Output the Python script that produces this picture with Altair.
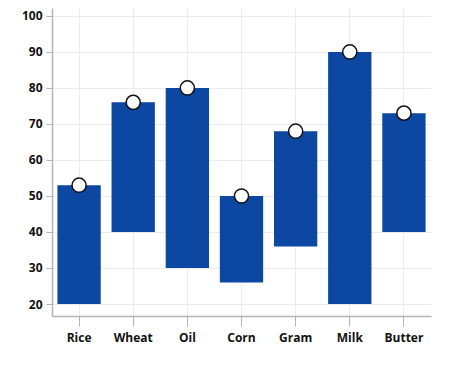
import altair as alt
import pandas as pd

categories = ["Rice", "Wheat", "Oil", "Corn", "Gram", "Milk", "Butter"]
low = [20, 40, 30, 26, 36, 20, 40]
high = [53, 76, 80, 50, 68, 90, 73]

df = pd.DataFrame({"cat": categories, "low": low, "high": high})

xscale = alt.Scale(paddingInner=0.2, paddingOuter=0.1, align=0.5)
xaxis = alt.Axis(labelAngle=0, labelFont="Open Sans", labelFontWeight="bold",
                 labelFontSize=12, labelColor="#111", labelPadding=6,
                 tickSize=10, tickColor="#b5b5b5", domainColor="#b5b5b5",
                 grid=True, gridColor="#ececec", tickBand="center")
yscale = alt.Scale(domain=[16.67, 102.2], nice=False, zero=False)
yaxis = alt.Axis(values=list(range(20, 101, 10)), labelFont="Open Sans",
                 labelFontWeight="bold", labelFontSize=12, labelColor="#111",
                 tickSize=6, tickColor="#b5b5b5", domainColor="#b5b5b5",
                 gridColor="#ececec", labelPadding=4, labelOverlap=False)

bars = alt.Chart(df).mark_bar(color="#0c47a1").encode(
    x=alt.X("cat:N", sort=categories, title=None, scale=xscale, axis=xaxis),
    y=alt.Y("low:Q", scale=yscale, axis=yaxis, title=None),
    y2="high:Q",
)
pts = alt.Chart(df).mark_point(filled=True, fill="white", stroke="#111",
                               strokeWidth=1.5, size=200, opacity=1).encode(
    x=alt.X("cat:N", sort=categories, title=None, scale=xscale, axis=xaxis),
    y=alt.Y("high:Q", scale=yscale, axis=yaxis, title=None),
)

chart = (bars + pts).properties(
    width=379, height=308,
    autosize=alt.AutoSizeParams(type="none"),
    padding={"left": 44, "top": 0, "right": 20, "bottom": 40},
).configure_view(stroke=None).configure_axis(domainWidth=1.5)

chart.save("out.html", embed_options={"renderer": "svg", "actions": False})
